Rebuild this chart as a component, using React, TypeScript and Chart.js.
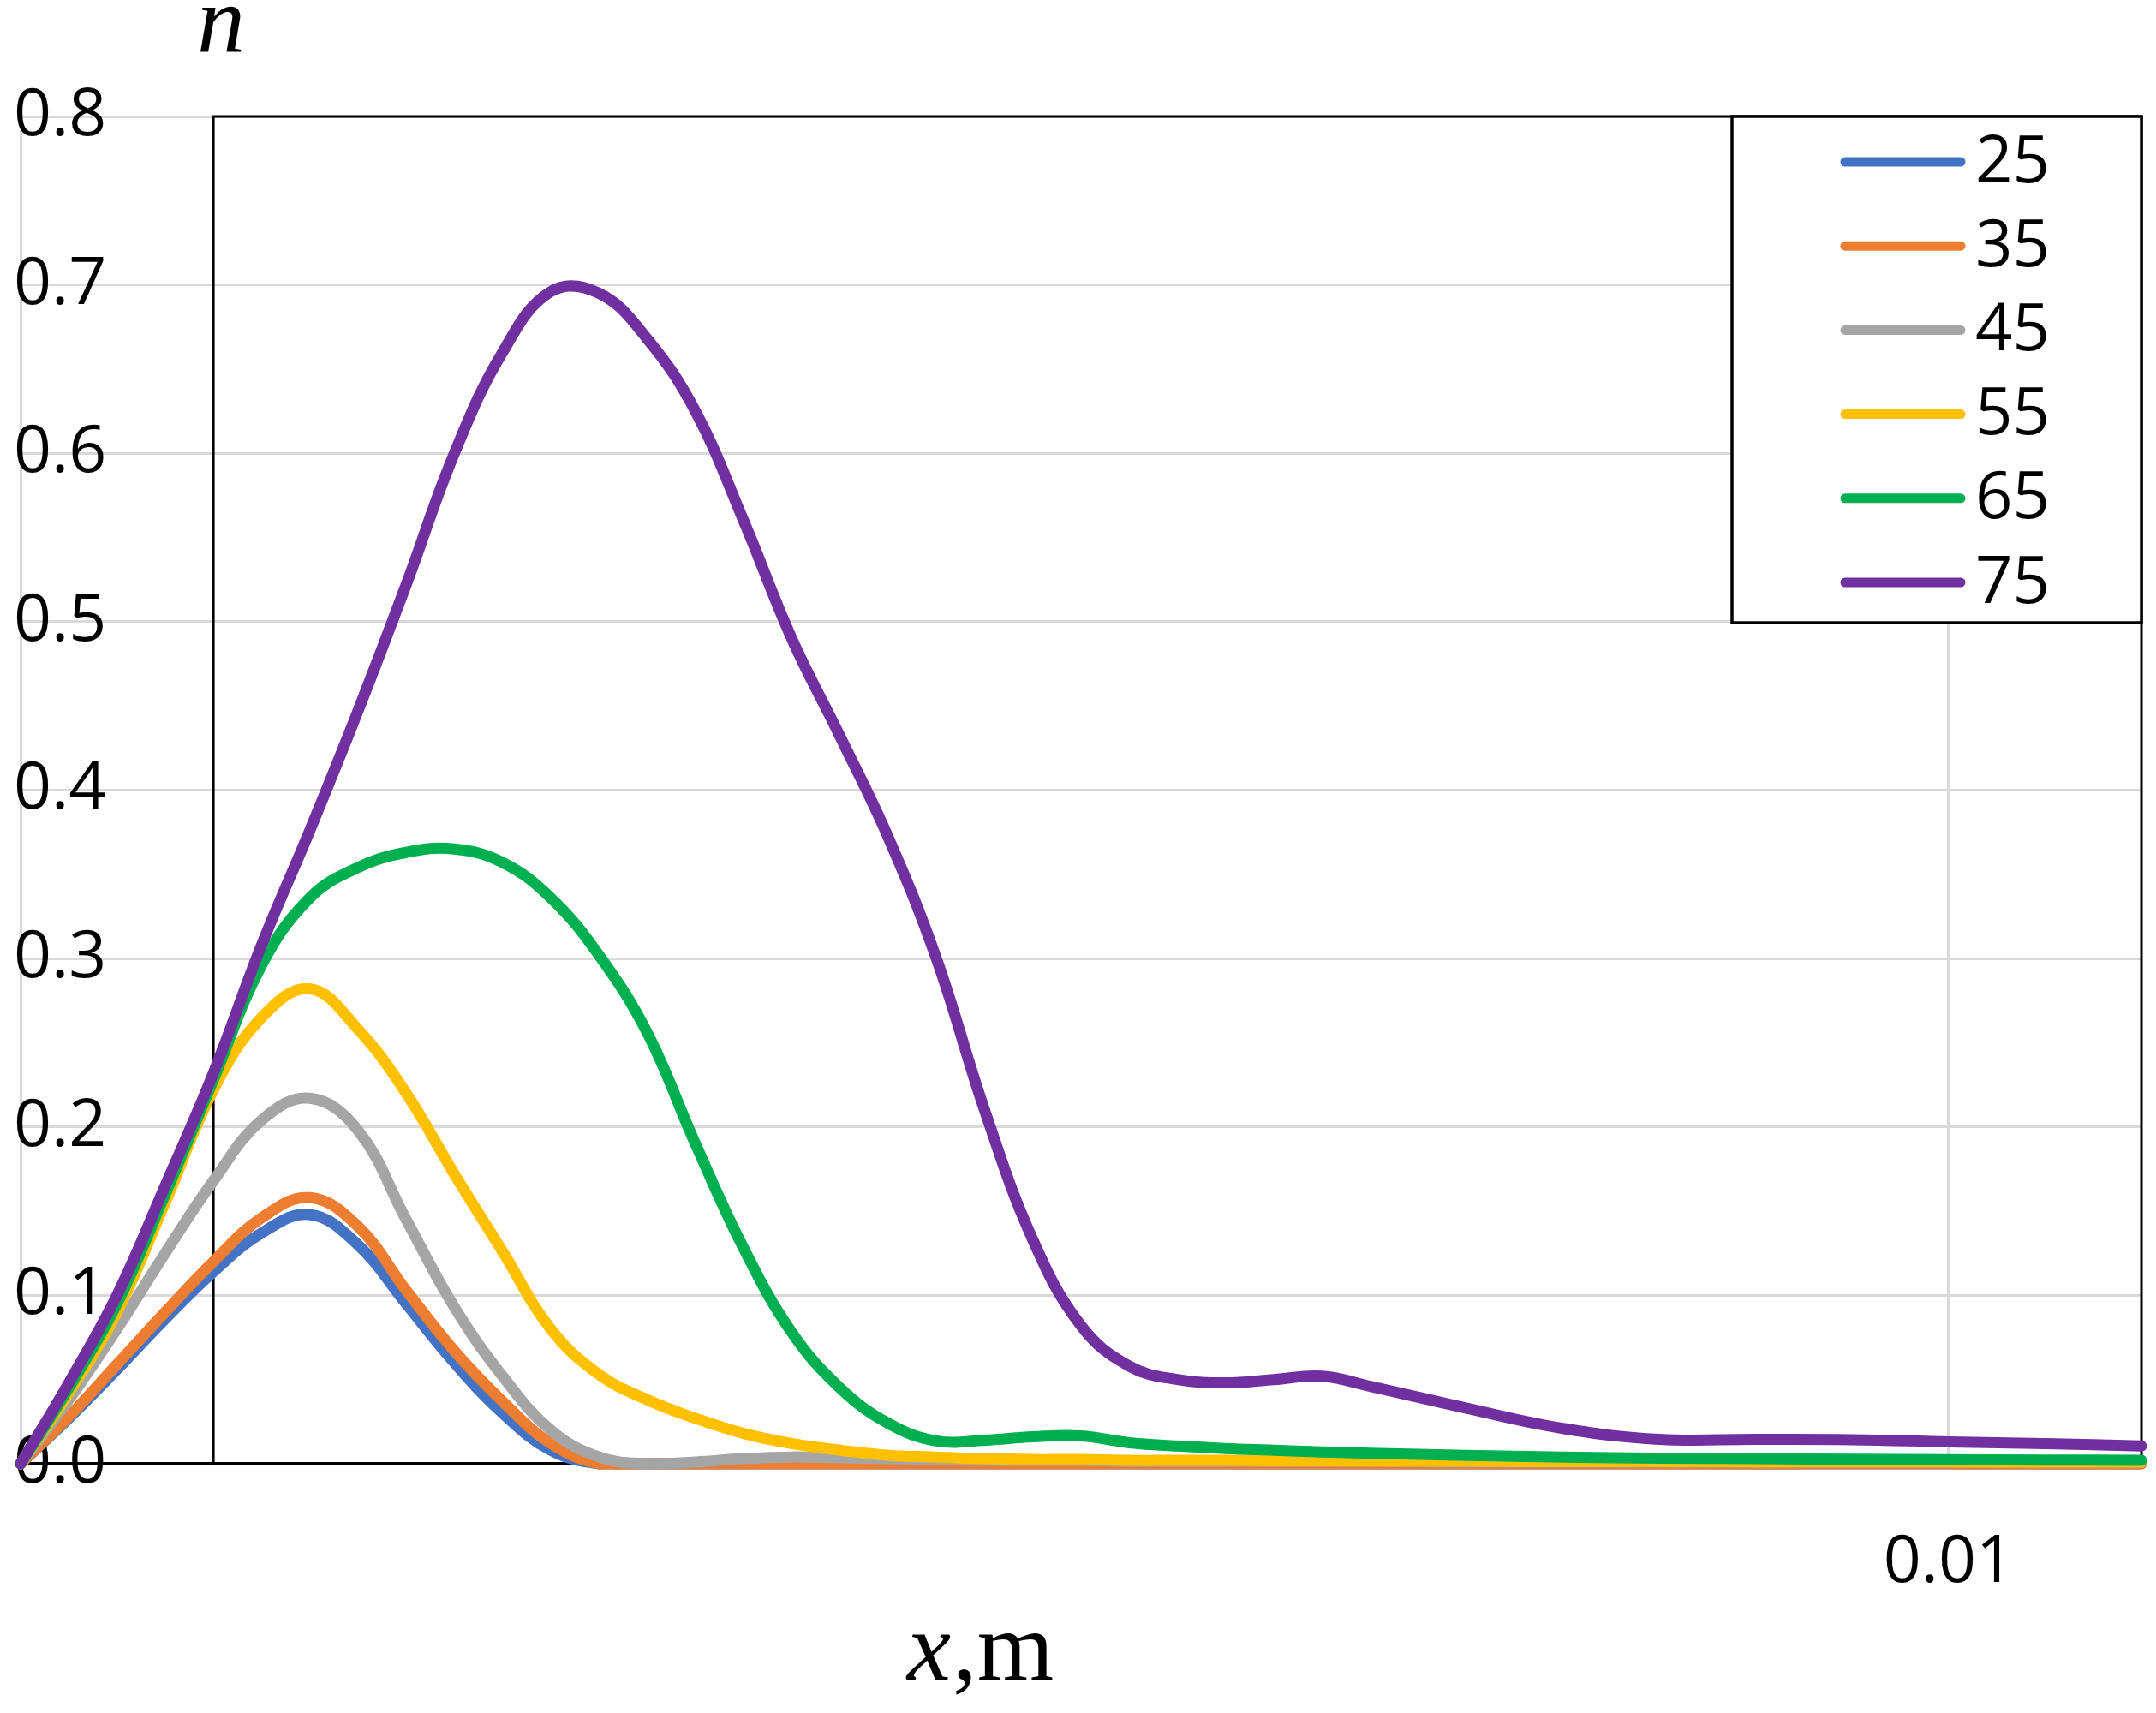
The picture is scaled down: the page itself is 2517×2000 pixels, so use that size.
import { useEffect, useRef } from 'react';
import { Chart, registerables } from 'chart.js';

Chart.register(...registerables);

// x positions in metres
const X_M = [
  0, 0.00025, 0.0005, 0.00075, 0.001, 0.00125, 0.0015, 0.00175, 0.002, 0.00225,
  0.0025, 0.00275, 0.003, 0.00325, 0.0035, 0.00375, 0.004, 0.00425, 0.0045, 0.00475,
  0.005, 0.00525, 0.0055, 0.00575, 0.006, 0.00625, 0.0065, 0.00675, 0.007, 0.0075,
  0.008, 0.0085, 0.009, 0.0095, 0.01, 0.0105, 0.011,
];

const SERIES_LABELS = ['25', '35', '45', '55', '65', '75'];

const N_25 = [
  0, 0.027, 0.056, 0.086, 0.114, 0.137, 0.148, 0.130, 0.095, 0.060,
  0.030, 0.008, 0, 0, 0, 0, 0, 0, 0, 0,
  0, 0, 0, 0, 0, 0, 0, 0, 0, 0,
  0, 0, 0, 0, 0, 0, 0,
];
const N_35 = [
  0, 0.028, 0.059, 0.090, 0.120, 0.146, 0.158, 0.141, 0.103, 0.067,
  0.037, 0.012, 0, 0, 0, 0, 0, 0, 0, 0,
  0, 0, 0, 0, 0, 0, 0, 0, 0, 0,
  0, 0, 0, 0, 0, 0, 0,
];
const N_45 = [
  0, 0.038, 0.080, 0.125, 0.168, 0.204, 0.217, 0.198, 0.145, 0.093,
  0.052, 0.020, 0.004, 0, 0.001, 0.003, 0.004, 0.0035, 0.003, 0.0025,
  0.002, 0.002, 0.002, 0.0015, 0.0015, 0.0015, 0.0015, 0.0015, 0.0015, 0.001,
  0.001, 0.001, 0.001, 0.001, 0.001, 0.001, 0.001,
];
const N_55 = [
  0, 0.042, 0.090, 0.155, 0.222, 0.265, 0.282, 0.258, 0.220, 0.172,
  0.126, 0.080, 0.053, 0.038, 0.027, 0.018, 0.012, 0.008, 0.005, 0.004,
  0.003, 0.0025, 0.0025, 0.002, 0.002, 0.002, 0.0018, 0.0018, 0.0016, 0.0015,
  0.0014, 0.0013, 0.0012, 0.0012, 0.0011, 0.001, 0.001,
];
const N_65 = [
  0, 0.045, 0.095, 0.160, 0.228, 0.296, 0.336, 0.354, 0.363, 0.365,
  0.357, 0.336, 0.302, 0.256, 0.190, 0.128, 0.078, 0.045, 0.024, 0.0135,
  0.014, 0.016, 0.0165, 0.0125, 0.0105, 0.009, 0.008, 0.007, 0.0062, 0.005,
  0.004, 0.0033, 0.003, 0.0027, 0.0024, 0.0022, 0.002,
];
const N_75 = [
  0, 0.048, 0.100, 0.165, 0.232, 0.308, 0.376, 0.447, 0.522, 0.600,
  0.660, 0.696, 0.695, 0.668, 0.625, 0.560, 0.490, 0.432, 0.372, 0.300,
  0.210, 0.133, 0.082, 0.058, 0.050, 0.048, 0.050, 0.052, 0.046, 0.033,
  0.021, 0.0145, 0.0145, 0.0143, 0.013, 0.012, 0.0105,
];

const SERIES_VALUES = [N_25, N_35, N_45, N_55, N_65, N_75];
const COLORS = ['#4472C4', '#ED7D31', '#A5A5A5', '#FFC000', '#00B050', '#7030A0'];

const X_MIN = 0;
const X_MAX = 0.011;
const X_TICKS = [0, 0.01];
const X_TICK_LABELS: Record<string, string> = { '0.01': '0.01' };
const Y_MIN = 0;
const Y_MAX = 0.8;
const Y_STEP = 0.1;
const FRAME_X_START = 0.001;

const TICK_FONT = '"Open Sans", "DejaVu Sans", sans-serif';
const SERIF_FONT = '"Liberation Serif", "DejaVu Serif", serif';
const LINE_W = 13;
const LEGEND_LINE_W = 11;

const decorPlugin = {
  id: 'decor',
  beforeDatasetsDraw(chart: any) {
    const { ctx, scales } = chart;
    const x = scales.x;
    const y = scales.y;
    const x0 = x.getPixelForValue(FRAME_X_START);
    const x1 = x.getPixelForValue(X_MAX);
    const y0 = y.getPixelForValue(Y_MAX);
    const y1 = y.getPixelForValue(Y_MIN);
    ctx.save();
    ctx.strokeStyle = '#000';
    ctx.lineWidth = 3;
    ctx.strokeRect(x0, y0, x1 - x0, y1 - y0);
    ctx.restore();
  },
  afterDatasetsDraw(chart: any) {
    const { ctx, chartArea } = chart;
    const w = 478;
    const h = 591;
    const lx = chartArea.right - w;
    const ly = chartArea.top;
    ctx.save();
    ctx.fillStyle = '#fff';
    ctx.fillRect(lx, ly, w, h);
    ctx.strokeStyle = '#000';
    ctx.lineWidth = 3.5;
    ctx.strokeRect(lx, ly, w, h);
    chart.data.datasets.forEach((ds: any, i: number) => {
      const cy = ly + 53 + i * 98.2;
      ctx.beginPath();
      ctx.strokeStyle = ds.borderColor;
      ctx.lineWidth = LEGEND_LINE_W;
      ctx.lineCap = 'round';
      ctx.moveTo(lx + 132, cy);
      ctx.lineTo(lx + 267, cy);
      ctx.stroke();
      ctx.fillStyle = '#000';
      ctx.font = `76px ${TICK_FONT}`;
      ctx.textAlign = 'left';
      ctx.textBaseline = 'middle';
      ctx.fillText(ds.label, lx + 284, cy + 2);
    });
    ctx.restore();
  },
  afterDraw(chart: any) {
    const { ctx } = chart;
    ctx.save();
    ctx.fillStyle = '#000';
    ctx.textBaseline = 'alphabetic';
    // y-axis title
    ctx.font = `italic 112px ${SERIF_FONT}`;
    ctx.textAlign = 'center';
    ctx.fillText('n', 258, 61);
    // x-axis title
    ctx.textAlign = 'left';
    ctx.font = `italic 115px ${SERIF_FONT}`;
    const sx = 1059;
    ctx.fillText('x', sx, 1961);
    const wx = ctx.measureText('x').width;
    ctx.font = `115px ${SERIF_FONT}`;
    ctx.fillText(',m', sx + wx + 2, 1961);
    ctx.restore();
  },
};

export default function App() {
  const ref = useRef<HTMLCanvasElement | null>(null);

  useEffect(() => {
    if (!ref.current) return;
    const datasets = SERIES_LABELS.map((label, i) => ({
      label,
      data: X_M.map((xv, j) => ({ x: xv, y: SERIES_VALUES[i][j] })),
      borderColor: COLORS[i],
      backgroundColor: COLORS[i],
      borderWidth: LINE_W,
      pointRadius: 0,
      pointHoverRadius: 0,
      tension: 0.4,
      borderCapStyle: 'round' as const,
      borderJoinStyle: 'round' as const,
      fill: false,
      clip: false as any,
      order: SERIES_LABELS.length - 1 - i,
    }));

    const chart = new Chart(ref.current, {
      type: 'line',
      data: { datasets },
      plugins: [decorPlugin],
      options: {
        animation: false,
        responsive: false,
        maintainAspectRatio: false,
        devicePixelRatio: 1,
        layout: { padding: { top: 136, right: 17, bottom: 0, left: 0 } },
        plugins: {
          legend: { display: false },
          tooltip: { enabled: false },
          title: { display: false },
        },
        scales: {
          x: {
            type: 'linear',
            min: X_MIN,
            max: X_MAX,
            afterBuildTicks: (scale: any) => {
              scale.ticks = X_TICKS.map((v) => ({ value: v }));
            },
            afterFit: (scale: any) => {
              scale.height = 291;
            },
            grid: {
              color: '#D9D9D9',
              lineWidth: 3,
              drawTicks: false,
            },
            border: { display: true, color: '#000', width: 3.5 },
            ticks: {
              padding: 0,
              maxRotation: 0,
              autoSkip: false,
              color: '#000',
              font: { family: TICK_FONT, size: 77, lineHeight: 3.02 },
              callback: (v: any) => X_TICK_LABELS[String(v)] ?? '',
            },
          },
          y: {
            type: 'linear',
            min: Y_MIN,
            max: Y_MAX,
            afterFit: (scale: any) => {
              scale.width = 24;
            },
            grid: {
              color: '#D9D9D9',
              lineWidth: 3,
              drawTicks: false,
            },
            border: { display: false },
            ticks: {
              stepSize: Y_STEP,
              mirror: true,
              padding: -8,
              color: '#000',
              font: { family: TICK_FONT, size: 77 },
              callback: (v: any) => Number(v).toFixed(1),
            },
          },
        },
      },
    });
    return () => chart.destroy();
  }, []);

  return (
    <div
      style={{
        position: 'fixed',
        left: 0,
        top: 0,
        width: 2517,
        height: 2000,
        background: '#fff',
      }}
    >
      <canvas ref={ref} width={2517} height={2000} style={{ width: 2517, height: 2000, display: 'block' }} />
    </div>
  );
}
